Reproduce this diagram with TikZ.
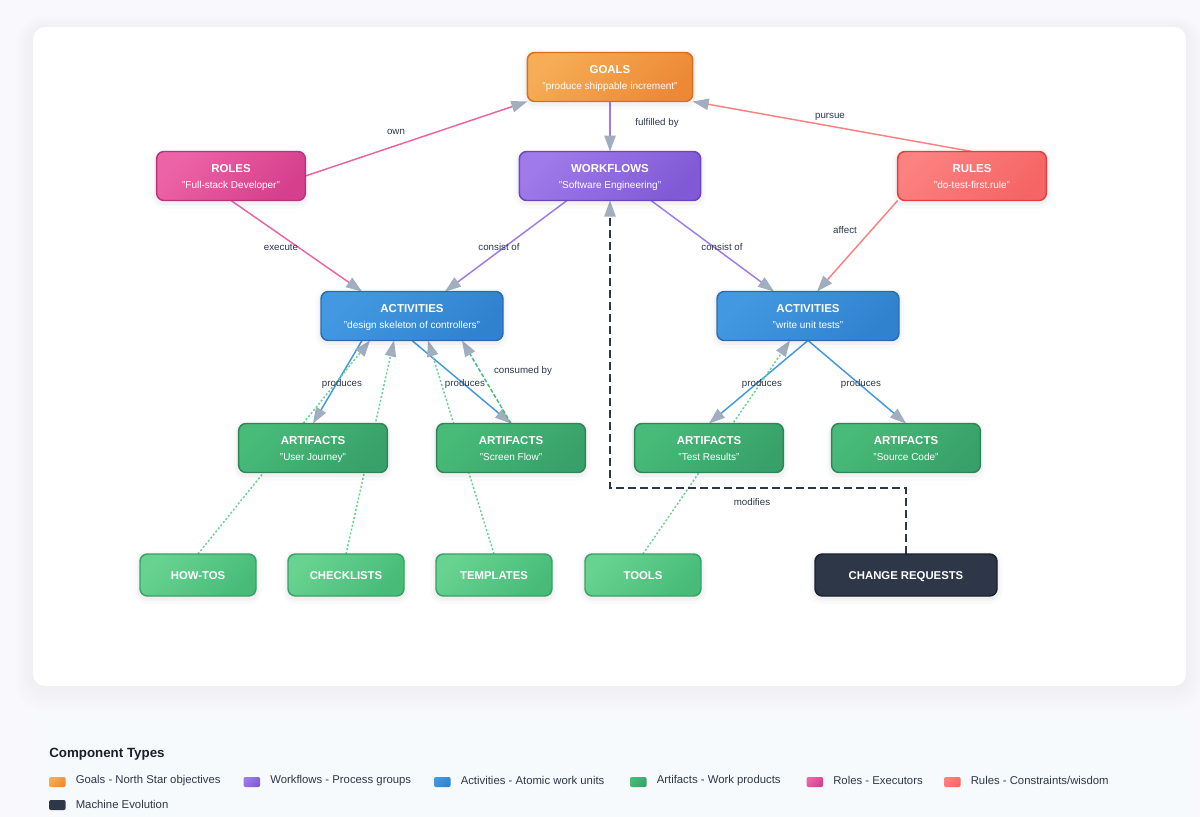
\documentclass[tikz,border=0pt]{standalone}
\usepackage{fontspec}
\setmainfont{Liberation Sans}
\usetikzlibrary{arrows.meta, calc}
\pgfdeclarelayer{card}
\pgfdeclarelayer{edge}
\pgfsetlayers{card,edge,main}

\definecolor{pagebg}{HTML}{F9F9FD}
\definecolor{panelbg}{HTML}{F7FAFC}
\definecolor{inkdark}{HTML}{2D3748}
\definecolor{tipgray}{HTML}{A0AEC0}

\newcommand{\boxtext}[2]{\rule[-11pt]{0pt}{22pt}%
    \makebox[0pt]{\raisebox{2.9pt}{\fontsize{8.6}{9}\bfseries #1}}%
    \makebox[0pt]{\raisebox{-9.05pt}{\fontsize{7.5}{7.5}\mdseries\selectfont #2}}}

\begin{document}
\begin{tikzpicture}[x=0.75pt, y=-0.75pt]
        \tikzset{
            softshadow/.style={
                preaction={draw=black, draw opacity=.018, line width=8pt, transform canvas={yshift=-2pt}},
                preaction={draw=black, draw opacity=.03, line width=4pt, transform canvas={yshift=-1.5pt}}},
            basebox/.style={softshadow, rounded corners=5.5pt, line width=1.1pt, outer sep=0pt, text=white, align=center, inner sep=0pt, font=\bfseries},
            tallbox/.style={basebox, minimum height=36.75pt},
            shortbox/.style={basebox, minimum height=31.5pt, minimum width=87pt, text height=6pt, text depth=0pt, font=\fontsize{8.5}{9}\bfseries\selectfont},
            goalbox/.style={tallbox, minimum width=124pt, draw=HTMLgoald, left color=HTMLgoala, right color=HTMLgoalb, shading angle=45},
            workbox/.style={tallbox, minimum width=136pt, draw=HTMLworkd, left color=HTMLworka, right color=HTMLworkb, shading angle=45},
            actbox/.style={tallbox, minimum width=136.5pt, draw=HTMLactd, left color=HTMLacta, right color=HTMLactb, shading angle=45},
            artbox/.style={tallbox, minimum width=111.5pt, draw=HTMLartd, left color=HTMLarta, right color=HTMLartb, shading angle=45},
            rolebox/.style={tallbox, minimum width=111.5pt, draw=HTMLroled, left color=HTMLrolea, right color=HTMLroleb, shading angle=45},
            rulebox/.style={tallbox, minimum width=111.5pt, draw=HTMLruled, left color=HTMLrulea, right color=HTMLruleb, shading angle=45},
            toolbox/.style={shortbox, draw=HTMLartb, left color=HTMLtoola, right color=HTMLarta, shading angle=45},
            changebox/.style={shortbox, minimum width=136.5pt, draw=HTMLchanged, fill=inkdark},
            flow/.style={line width=1.1pt, -{Triangle[length=12pt, width=8.5pt, color=tipgray]}},
            support/.style={flow, draw=HTMLtoola, dash pattern=on 1.5pt off 1.5pt},
            edgelabel/.style={text=inkdark, inner sep=0pt, yshift=-.75pt, text height=5.2pt, text depth=1.5pt, font=\fontsize{7.3}{7.3}\selectfont},
            swatch/.style={rounded corners=1.5pt, minimum width=12.5pt, minimum height=7.5pt, inner sep=0pt, outer sep=0pt},
            legendtext/.style={text=inkdark, anchor=west, inner sep=0pt, font=\fontsize{8.5}{8.5}\selectfont}
        }
        \definecolor{HTMLgoala}{HTML}{F6AD55}\definecolor{HTMLgoalb}{HTML}{ED8936}\definecolor{HTMLgoald}{HTML}{DD6B20}
        \definecolor{HTMLworka}{HTML}{9F7AEA}\definecolor{HTMLworkb}{HTML}{805AD5}\definecolor{HTMLworkd}{HTML}{6B46C1}
        \definecolor{HTMLacta}{HTML}{4299E1}\definecolor{HTMLactb}{HTML}{3182CE}\definecolor{HTMLactd}{HTML}{2B6CB0}
        \definecolor{HTMLarta}{HTML}{48BB78}\definecolor{HTMLartb}{HTML}{38A169}\definecolor{HTMLartd}{HTML}{2F855A}
        \definecolor{HTMLrolea}{HTML}{ED64A6}\definecolor{HTMLroleb}{HTML}{D53F8C}\definecolor{HTMLroled}{HTML}{B83280}
        \definecolor{HTMLrulea}{HTML}{FC8181}\definecolor{HTMLruleb}{HTML}{F56565}\definecolor{HTMLruled}{HTML}{E53E3E}
        \definecolor{HTMLtoola}{HTML}{68D391}\definecolor{HTMLchanged}{HTML}{1A202C}

        \useasboundingbox (0,0) rectangle (1200,817);

        % Page, legend panel and card
        \begin{pgfonlayer}{card}
            \clip (0,0) rectangle (1200,817);
            \fill[pagebg] (0,0) rectangle (1200,817);
            \fill[panelbg, rounded corners=6pt] (33,713) rectangle (1186,840);
            \foreach \s in {2,4,...,18} {
                \fill[black, opacity=.0045, rounded corners={(9+\s*0.75)*1pt}] (33-\s,27-\s*0.6) rectangle (1186+\s,686+\s*1.4);
            }
            \fill[white, rounded corners=9pt] (33,27) rectangle (1186,686);
        \end{pgfonlayer}

        % Top row
        \node[goalbox] (goals) at (610,77) {\boxtext{GOALS}{"produce shippable increment"}};
        \node[rolebox] (roles) at (231,176) {\boxtext{ROLES}{"Full-stack Developer"}};
        \node[workbox] (work) at (610,176) {\boxtext{WORKFLOWS}{"Software Engineering"}};
        \node[rulebox] (rules) at (972,176) {\boxtext{RULES}{"do-test-first.rule"}};

        % Activities
        \node[actbox] (act1) at (412,316) {\boxtext{ACTIVITIES}{"design skeleton of controllers"}};
        \node[actbox] (act2) at (808,316) {\boxtext{ACTIVITIES}{"write unit tests"}};

        % Artifacts
        \node[artbox] (art1) at (313,448) {\boxtext{ARTIFACTS}{"User Journey"}};
        \node[artbox] (art2) at (511,448) {\boxtext{ARTIFACTS}{"Screen Flow"}};
        \node[artbox] (art3) at (709,448) {\boxtext{ARTIFACTS}{"Test Results"}};
        \node[artbox] (art4) at (906,448) {\boxtext{ARTIFACTS}{"Source Code"}};

        % Bottom row
        \node[toolbox] (howtos) at (198,575) {HOW-TOS};
        \node[toolbox] (checks) at (346,575) {CHECKLISTS};
        \node[toolbox] (temps) at (494,575) {TEMPLATES};
        \node[toolbox] (tools) at (643,575) {TOOLS};
        \node[changebox, text=white] (change) at (906,575) {CHANGE REQUESTS};
        \coordinate (modturn) at (610,488);

        % Connections
        \begin{pgfonlayer}{edge}
            \draw[flow, draw=HTMLrolea] (roles.east) -- (goals.south west);
            \draw[flow, draw=HTMLrulea] (rules.north) -- (goals.south east);
            \draw[flow, draw=HTMLworka] (goals.south) -- (work.north);
            \draw[flow, draw=HTMLrolea] (roles.south) -- ($(act1.north)+(-50,0)$);
            \draw[flow, draw=HTMLworka] ($(work.south)+(-43,0)$) -- ($(act1.north)+(33,0)$);
            \draw[flow, draw=HTMLworka] ($(work.south)+(41,0)$) -- ($(act2.north)+(-34,0)$);
            \draw[flow, draw=HTMLrulea] (rules.south west) -- ($(act2.north)+(9,0)$);
            \draw[flow, draw=HTMLacta] ($(act1.south)+(-50,0)$) -- (art1.north);
            \draw[flow, draw=HTMLacta] (act1.south) -- (art2.north);
            \draw[flow, draw=HTMLacta] (act2.south) -- (art3.north);
            \draw[flow, draw=HTMLacta] (act2.south) -- (art4.north);
            \draw[flow, draw=HTMLarta, dash pattern=on 3pt off 1.5pt] (art2.north) -- ($(act1.south)+(50,0)$);
            \draw[support] (howtos.north) -- ($(act1.south)+(-42,0)$);
            \draw[support] (checks.north) -- ($(act1.south)+(-18,0)$);
            \draw[support] (temps.north) -- ($(act1.south)+(16,0)$);
            \draw[support] (tools.north) -- ($(act2.south)+(-18,0)$);
            \draw[flow, line width=.95pt, draw=inkdark, dash pattern=on 6pt off 3pt] (change.north) |- (modturn) -- (work.south);
        \end{pgfonlayer}

        % Connection labels
        \node[edgelabel] (lblown) at (396,131) {own};
        \node[edgelabel] (lblfull) at (657,122) {fulfilled by};
        \node[edgelabel] (lblpursue) at (830,115) {pursue};
        \node[edgelabel] (lblexec) at (281,247) {execute};
        \node[edgelabel] (lblcons1) at (499,247) {consist of};
        \node[edgelabel] (lblcons2) at (722,247) {consist of};
        \node[edgelabel] (lblaffect) at (845,230) {affect};
        \node[edgelabel] (lblprod1) at (342,383) {produces};
        \node[edgelabel] (lblprod2) at (465,383) {produces};
        \node[edgelabel] (lblused) at (523,370) {consumed by};
        \node[edgelabel] (lblprod3) at (762,383) {produces};
        \node[edgelabel] (lblprod4) at (861,383) {produces};
        \node[edgelabel] (lblmod) at (752,502) {modifies};

        % Legend
        \node[anchor=west, inner sep=0pt, text=HTMLchanged, font=\fontsize{10}{10}\bfseries\selectfont] (legendhead) at (49,754) {Component Types};
        \foreach \xpos/\ca/\cb/\tag/\txt in {
            49/goala/goalb/goal/{Goals - North Star objectives},
            243.5/worka/workb/work/{Workflows - Process groups},
            434/acta/actb/act/{Activities - Atomic work units},
            630/arta/artb/art/{Artifacts - Work products},
            806.5/rolea/roleb/role/{Roles - Executors},
            944/rulea/ruleb/rule/{Rules - Constraints/wisdom}} {
            \node[swatch, anchor=west, left color=HTML\ca, right color=HTML\cb, shading angle=45] (sw\tag) at (\xpos,782) {};
            \node[legendtext] (txt\tag) at (\xpos+26.5,780.5) {\txt};
        }
        \node[swatch, anchor=west, fill=inkdark] (swmach) at (49,805) {};
        \node[legendtext] (txtmach) at (75.5,804) {Machine Evolution};
    \end{tikzpicture}
\end{document}
